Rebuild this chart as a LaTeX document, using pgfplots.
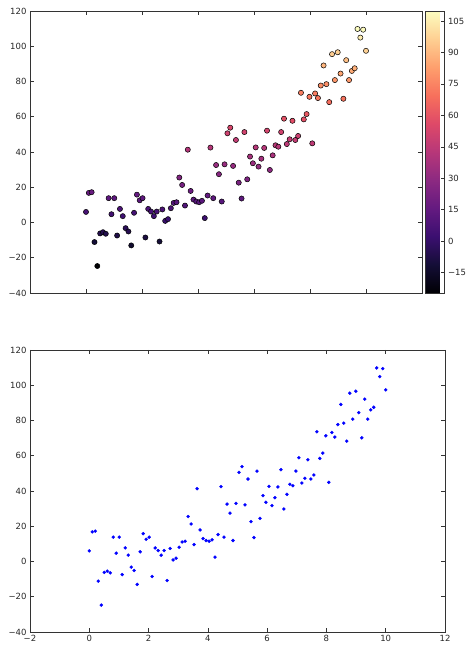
\documentclass[border=0pt]{standalone}
\usepackage{pgfplots}
\pgfplotsset{compat=1.18}
\usepackage{pgfplotstable}
\usepackage{fontspec}
\setmainfont{DejaVu Sans}

\pgfplotstableread{
x y
0.000 6.0
0.101 16.8
0.202 17.2
0.303 -11.1
0.404 -24.7
0.505 -6.2
0.606 -5.5
0.707 -6.4
0.808 13.8
0.909 4.7
1.010 13.8
1.111 -7.4
1.212 7.7
1.313 3.6
1.414 -3.2
1.515 -5.1
1.616 -13.0
1.717 5.5
1.818 15.8
1.919 12.6
2.020 13.8
2.121 -8.5
2.222 7.7
2.323 6.2
2.424 3.6
2.525 6.2
2.626 -10.8
2.727 7.4
2.828 0.9
2.929 1.9
3.030 8.1
3.131 11.1
3.232 11.5
3.333 25.5
3.434 21.3
3.535 9.6
3.636 41.3
3.737 17.9
3.838 13.0
3.939 11.9
4.040 11.5
4.141 12.3
4.242 2.5
4.343 15.3
4.444 42.5
4.545 13.8
4.646 32.6
4.747 27.4
4.848 11.9
4.949 33.0
5.051 50.6
5.152 53.8
5.253 32.1
5.354 46.8
5.455 22.6
5.556 13.6
5.657 51.3
5.758 24.5
5.859 37.4
5.960 33.6
6.061 42.6
6.162 31.7
6.263 36.2
6.364 42.3
6.465 52.1
6.566 29.8
6.667 38.1
6.768 43.8
6.869 43.0
6.970 51.3
7.071 58.9
7.172 44.5
7.273 47.2
7.374 57.7
7.475 46.8
7.576 49.1
7.677 73.6
7.778 58.5
7.879 61.5
7.980 71.3
8.081 44.9
8.182 73.2
8.283 70.6
8.384 77.7
8.485 89.1
8.586 78.5
8.687 68.3
8.788 95.5
8.889 80.8
8.990 96.6
9.091 84.5
9.192 70.2
9.293 92.1
9.394 80.8
9.495 86.0
9.596 87.5
9.697 109.8
9.798 104.9
9.899 109.4
10.000 97.4
}\data

\pgfplotsset{
  colormap={magma}{rgb255=(0,0,4) rgb255=(20,14,54) rgb255=(59,15,112) rgb255=(100,26,128) rgb255=(140,41,129) rgb255=(183,55,121) rgb255=(222,73,104) rgb255=(247,112,92) rgb255=(254,159,109) rgb255=(254,207,146) rgb255=(252,253,191)},
  mystyle/.style={
    scale only axis,
    axis line style={line width=0.8pt, black!80},
    tick align=inside,
    tick pos=both,
    tick style={black!80, line width=0.6pt},
    major tick length=4pt,
    tick label style={font=\fontsize{8.5}{10}\selectfont, black!85},
    xmin=-2, xmax=12, ymin=-40, ymax=120,
    ytick={-40,-20,...,120},
    yticklabels={−40,−20,0,20,40,60,80,100,120},
  },
}

\begin{document}
\begin{tikzpicture}
\useasboundingbox (0,0) rectangle (474pt,652pt);
\begin{axis}[mystyle,
  at={(30pt,359pt)}, anchor=south west,
  width=392pt, height=282pt,
  xtick={0,2,...,10}, xticklabels={},
  colorbar, colormap name=magma,
  point meta min=-24.7, point meta max=109.8,
  colorbar style={
    at={(parent axis.north east)}, anchor=north west, xshift=-5pt,
    scale only axis, width=19pt, height=282pt,
    ytick={-15,0,...,105},
    yticklabels={−15,0,15,30,45,60,75,90,105},
    ytick pos=right, yticklabel pos=right,
    tick align=inside,
    major tick length=3.5pt,
    axis line style={line width=0.8pt, black!80},
    tick style={black!80, line width=0.6pt},
    tick label style={font=\fontsize{8.5}{10}\selectfont, black!85},
  },
]
\addplot[scatter, only marks, mark=*, mark size=2.6pt,
  scatter/use mapped color={draw=black, fill=mapped color, line width=0.5pt}]
  table[x=x, y=y, meta=y] {\data};
\end{axis}
\begin{axis}[mystyle,
  at={(30pt,20pt)}, anchor=south west,
  width=415pt, height=282pt,
  xtick={-2,0,...,12},
  xticklabels={−2,0,2,4,6,8,10,12},
]
\addplot[only marks, mark=*, mark size=1.5pt, color=blue, draw=blue]
  table[x=x, y=y] {\data};
\end{axis}
\end{tikzpicture}
\end{document}
